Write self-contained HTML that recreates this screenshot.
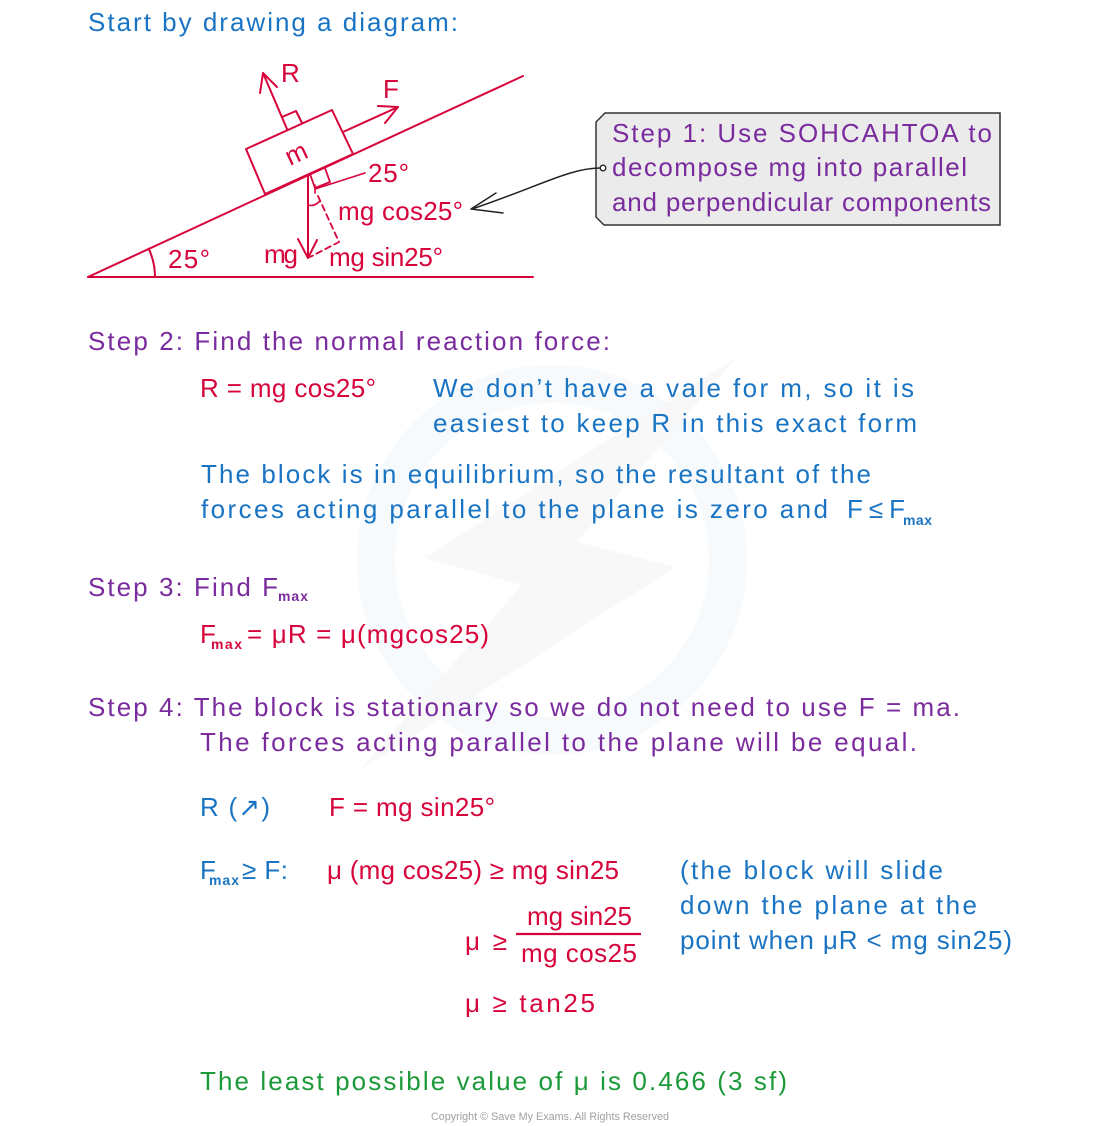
<!DOCTYPE html>
<html>
<head>
<meta charset="utf-8">
<style>
  html, body { margin:0; padding:0; background:#ffffff; }
  body { width:1100px; height:1126px; overflow:hidden; }
  svg { display:block; }
  text { font-family: "Liberation Sans", "DejaVu Sans", sans-serif; }
  .b { fill:#1a74c4; font-size:26px; }
  .p { fill:#7a2b9e; font-size:26px; }
  .r { fill:#d6043b; font-size:26px; }
  .g { fill:#1c9a3a; font-size:26px; }
  .sub { font-size:14px; font-weight:bold; }
</style>
</head>
<body>
<svg width="1100" height="1126" viewBox="0 0 1100 1126" xmlns="http://www.w3.org/2000/svg">
  <!-- watermark -->
  <circle cx="552" cy="560" r="176" fill="none" stroke="#f7fafc" stroke-width="38"/>
  <polygon points="737,357 425,558 522,585 360,770 675,567 577,542" fill="#f8f8f9"/>

  <!-- Title -->
  <text class="b" x="88" y="31" textLength="370" lengthAdjust="spacing">Start by drawing a diagram:</text>

  <!-- Diagram -->
  <g stroke="#d6043b" stroke-width="2" fill="none" stroke-linecap="round" stroke-linejoin="round">
    <line x1="88" y1="277" x2="533" y2="277"/>
    <line x1="88" y1="277" x2="523" y2="76"/>
    <path d="M155,277 A67,67 0 0 0 148.7,248.7"/>
    <polygon points="265,194 246,149 332,110 353,154"/>
    <!-- R -->
    <line x1="287" y1="129" x2="263" y2="73"/>
    <polyline points="260,93 263,73 277,87"/>
    <polyline points="282,117 296,111 302,123"/>
    <!-- F -->
    <line x1="343" y1="132" x2="398" y2="107"/>
    <polyline points="378,106 398,107 385,123"/>
    <!-- mg -->
    <line x1="308" y1="176" x2="308" y2="258"/>
    <polyline points="298,239 308,258 317,240"/>
    <!-- right angle -->
    <polyline points="310,174 315,188 330,182 325,168" stroke-width="1.8"/>
    <line x1="315" y1="185" x2="315" y2="193" stroke-width="1.6"/>
    <line x1="315" y1="189" x2="365" y2="173" stroke-width="1.6"/>
    <path d="M308,205 Q314,207 320,201" stroke-width="1.6"/>
    <!-- dashed components -->
    <polyline points="318,196 339,242 310,257" stroke-dasharray="6,4" stroke-width="1.8"/>
  </g>
  <text class="r" x="281" y="82" font-size="24">R</text>
  <text class="r" x="383" y="98" font-size="24">F</text>
  <text class="r" x="0" y="0" font-size="19" transform="translate(290,166) rotate(-25)">m</text>
  <text class="r" x="368" y="182" textLength="41" lengthAdjust="spacing">25°</text>
  <text class="r" x="338" y="220" textLength="125" lengthAdjust="spacing">mg cos25°</text>
  <text class="r" x="264" y="263" textLength="34" lengthAdjust="spacing">mg</text>
  <text class="r" x="329" y="266" textLength="114" lengthAdjust="spacing">mg sin25°</text>
  <text class="r" x="168" y="268" textLength="42" lengthAdjust="spacing">25°</text>

  <!-- Callout -->
  <polygon points="605,113 1000,113 1000,225 604,225 596,217 596,122" fill="#ebebeb" stroke="#333" stroke-width="1.5"/>
  <text class="p" x="612" y="142" textLength="380" lengthAdjust="spacing">Step 1: Use SOHCAHTOA to</text>
  <text class="p" x="612" y="176" textLength="355" lengthAdjust="spacing">decompose mg into parallel</text>
  <text class="p" x="612" y="211" textLength="379" lengthAdjust="spacing">and perpendicular components</text>
  <g stroke="#222" stroke-width="1.5" fill="none" stroke-linecap="round" stroke-linejoin="round">
    <path d="M600,168 C570,168 540,186 472,209"/>
    <polyline points="496,193 471,209 503,213"/>
  </g>
  <circle cx="603" cy="168" r="2.8" fill="#fff" stroke="#222" stroke-width="1.3"/>

  <!-- Step 2 -->
  <text class="p" x="88" y="350" textLength="522" lengthAdjust="spacing">Step 2: Find the normal reaction force:</text>
  <text class="r" x="200" y="397" textLength="176" lengthAdjust="spacing">R = mg cos25°</text>
  <text class="b" x="433" y="397" textLength="481" lengthAdjust="spacing">We don’t have a vale for m, so it is</text>
  <text class="b" x="433" y="432" textLength="484" lengthAdjust="spacing">easiest to keep R in this exact form</text>
  <text class="b" x="201" y="483" textLength="670" lengthAdjust="spacing">The block is in equilibrium, so the resultant of the</text>
  <text class="b" x="201" y="518" textLength="627" lengthAdjust="spacing">forces acting parallel  to the plane is zero and</text>
  <text class="b" x="847" y="518" textLength="58" lengthAdjust="spacing">F ≤ F</text>
  <text class="b sub" x="903" y="525" textLength="29" lengthAdjust="spacing">max</text>

  <!-- Step 3 -->
  <text class="p" x="88" y="596" textLength="190" lengthAdjust="spacing">Step 3: Find  F</text>
  <text class="p sub" x="278" y="601" textLength="30" lengthAdjust="spacing">max</text>
  <text class="r" x="200" y="643">F</text>
  <text class="r sub" x="211" y="649" textLength="31" lengthAdjust="spacing">max</text>
  <text class="r" x="247" y="643" textLength="242" lengthAdjust="spacing">= μR = μ(mgcos25)</text>

  <!-- Step 4 -->
  <text class="p" x="88" y="716" textLength="872" lengthAdjust="spacing">Step 4: The block is stationary so we do not need to use F = ma.</text>
  <text class="p" x="200" y="751" textLength="717" lengthAdjust="spacing">The forces acting parallel to the plane will be equal.</text>

  <text class="b" x="200" y="816" textLength="70" lengthAdjust="spacing">R (↗)</text>
  <text class="r" x="329" y="816" textLength="166" lengthAdjust="spacing">F = mg sin25°</text>

  <text class="b" x="200" y="879">F</text>
  <text class="b sub" x="209" y="885" textLength="30" lengthAdjust="spacing">max</text>
  <text class="b" x="242" y="879" textLength="46" lengthAdjust="spacing">≥ F:</text>
  <text class="r" x="327" y="879" textLength="292" lengthAdjust="spacing">μ (mg cos25) ≥ mg sin25</text>

  <text class="b" x="680" y="879" textLength="263" lengthAdjust="spacing">(the block will slide</text>
  <text class="b" x="680" y="914" textLength="297" lengthAdjust="spacing">down the plane at the</text>
  <text class="b" x="680" y="949" textLength="332" lengthAdjust="spacing">point when μR &lt; mg sin25)</text>

  <text class="r" x="465" y="950" textLength="42" lengthAdjust="spacing">μ ≥</text>
  <text class="r" x="527" y="925" textLength="105" lengthAdjust="spacing">mg sin25</text>
  <line x1="516" y1="934" x2="641" y2="934" stroke="#d6043b" stroke-width="2.2"/>
  <text class="r" x="521" y="962" textLength="116" lengthAdjust="spacing">mg cos25</text>

  <text class="r" x="465" y="1012" textLength="130" lengthAdjust="spacing">μ ≥  tan25</text>

  <!-- Final -->
  <text class="g" x="200" y="1090" textLength="587" lengthAdjust="spacing">The least possible value of μ is  0.466 (3 sf)</text>

  <text x="431" y="1120" font-size="11" fill="#a0a0a0" textLength="238" lengthAdjust="spacingAndGlyphs">Copyright © Save My Exams. All Rights Reserved</text>
</svg>
</body>
</html>
